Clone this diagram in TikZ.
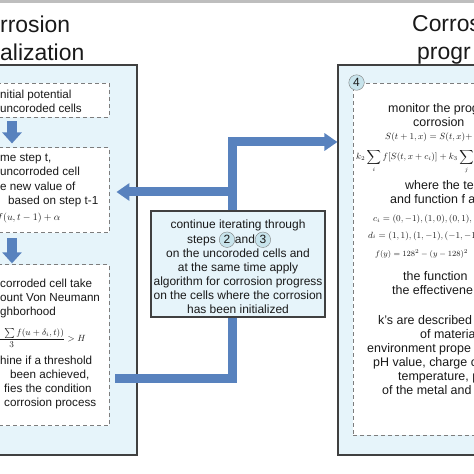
\documentclass[tikz,border=0pt]{standalone}
\usepackage[no-math]{fontspec}
\setmainfont{Liberation Sans}
\usepackage{xcolor}
\usepackage{tikz}
\usetikzlibrary{arrows.meta, positioning, calc}
\definecolor{panelfill}{RGB}{230,244,250}
\definecolor{panelline}{RGB}{64,64,64}
\definecolor{dashline}{RGB}{125,125,125}
\definecolor{flow}{RGB}{88,130,190}
\definecolor{badgefill}{RGB}{200,228,236}
\definecolor{darktext}{RGB}{25,25,25}
\definecolor{topbar}{RGB}{190,190,190}

\newcommand{\stepnum}[1]{\tikz[baseline=(num.base)]\node[numbadge] (num) {#1};}

\begin{document}
\begin{tikzpicture}[
    x=1bp, y=-1bp,
    panel/.style={rectangle, draw=panelline, fill=panelfill, line width=1.1bp},
    stepbox/.style={rectangle, draw=dashline, fill=white, dash pattern=on 4bp off 3bp,
                    line width=0.9bp, minimum width=194bp},
    iterbox/.style={rectangle, draw=panelline, fill=panelfill, line width=1.1bp, inner sep=2bp,
                    minimum width=174bp, minimum height=106bp, align=center,
                    font=\fontsize{12}{14}\selectfont, text=darktext},
    title/.style={anchor=north west, align=left, inner sep=0pt,
                  font=\fontsize{23}{28}\selectfont, text=darktext},
    steptext/.style={anchor=north west, align=left, inner sep=0pt,
                     font=\fontsize{11.7}{14.3}\selectfont, text=darktext},
    proctext/.style={anchor=base west, inner sep=0pt, font=\fontsize{12.5}{14}\selectfont, text=darktext},
    formula/.style={anchor=base west, inner sep=0pt, font=\fontsize{9}{11}\selectfont, text=darktext},
    numbadge/.style={circle, draw=dashline, fill=badgefill, inner sep=0.5bp, minimum size=15.5bp,
                     font=\fontsize{12}{14}\selectfont, text=darktext},
    flowdown/.style={-{Triangle[length=11bp, width=19bp]}, line width=9.5bp, flow},
    flowarrow/.style={-{Triangle[length=13bp, width=17bp]}, line width=9bp, flow, line join=miter},
    flowline/.style={line width=9bp, flow, line join=miter}
]
\useasboundingbox (0,0) rectangle (474,474);
\clip (0,0) rectangle (474,474);
\fill[topbar] (0,0) rectangle (474,3);

% Titles
\node[title] (inittitle) at (0,15.5) {rrosion\\alization};
\node[title] (progtitle) at (412,15.3) {Corros\\\hspace*{5bp}progr};

% Initialization panel
\node[panel, minimum width=250bp, minimum height=390bp] (initframe) at (12,260) {};
\node[stepbox, minimum height=34bp] (step1) at (12,100) {};
\node[stepbox, minimum height=85bp, below=30bp of step1] (step2) {};
\node[stepbox, minimum height=161bp, below=31bp of step2] (step3) {};

\node[steptext] (step1txt) at (0,89.6) {nitial potential\\uncoroded cells};
\node[steptext] (step2txt) at (0,154) {me step t,\\uncorroded cell\\e new value of\\\hspace*{8bp}based on step t-1};
\node[formula, font=\fontsize{10}{12}\selectfont] (step2eq) at (-3,221) {$f(u,t-1)+\alpha$};
\node[steptext] (step3txt) at (0,278.6) {corroded cell take\\ount Von Neumann\\ghborhood};
\node[formula, anchor=west] (step3eq) at (-42,338) {$\displaystyle\frac{\hspace{45bp}\textstyle\sum f(u+\delta_i,t))}{3}>H$};
\node[steptext] (step3end) at (0,355.6) {hine if a threshold\\\hspace*{10bp}been achieved,\\\hspace*{4bp}fies the condition\\\hspace*{4bp}corrosion process};

% Progress panel
\node[panel, minimum width=300bp, minimum height=390bp] (progframe) at (488,260) {};
\node[stepbox, minimum width=270bp, minimum height=352bp] (progbox) at (488,259) {};
\node[numbadge] (stepfour) at ([xshift=4bp]progbox.north west) {4};

\foreach \y/\x/\txt in {113/388/{monitor the prog}, 127/413/{corrosion},
        190/405/{where the ter}, 204/390/{and function f ar},
        280/403/{the function}, 294/392/{the effectivene},
        324/378/{k's are described}, 338/420/{of materia},
        352/367/{environment prope}, 366/373/{pH value, charge c},
        380/398/{temperature, p}, 394/382/{of the metal and}}
    \node[proctext] (prog\y) at (\x,\y) {\txt};

\node[formula] (progeq1) at (385,140) {$S(t+1,x)=S(t,x)+$};
\node[formula] (progeq2) at (356,160) {$\displaystyle k_2\sum_i f[S(t,x+c_i)]+k_3\sum_j$};
\node[formula] (progeq3) at (373,222) {$c_i=(0,-1),(1,0),(0,1),($};
\node[formula] (progeq4) at (368,238) {$d_i=(1,1),(1,-1),(-1,-1)$};
\node[formula, font=\fontsize{8}{10}\selectfont] (progeq5) at (375,256) {$f(y)=128^2-(y-128)^2$};

% Iteration
\node[iterbox] (iterate) at (238,264) {\rule{0pt}{14bp}continue iterating through\\steps \stepnum{2}and\stepnum{3}\mbox{\hspace{18bp}}\\on the uncoroded cells and\\at the same time apply\\algorithm for corrosion progress\\on the cells where the corrosion\\has been initialized};

% Arrows
\coordinate (fork) at (232,142);
\coordinate (branch) at (232,192);
\coordinate (loopback) at (232,378);
\draw[flowdown, shorten <=4bp, shorten >=4bp] (step1) -- (step2);
\draw[flowdown, shorten <=5bp, shorten >=1bp] (step2) -- (step3);
\draw[flowarrow] ([xshift=-6bp]iterate.north) |- (fork -| progframe.west);
\draw[flowarrow, shorten >=7bp] (branch) -- (branch -| step2.east);
\draw[flowline, shorten >=6bp] ([xshift=-6bp]iterate.south) |- (loopback -| step3.east);

\end{tikzpicture}
\end{document}
